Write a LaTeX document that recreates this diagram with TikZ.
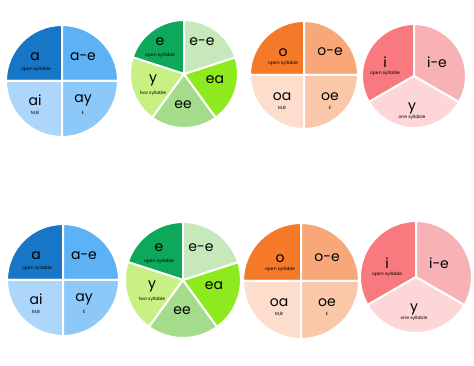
\documentclass[tikz,border=0pt]{standalone}
\usepackage{fontspec}
\setmainfont{Poppins}
\definecolor{adark}{RGB}{24,118,198}
\definecolor{amid}{RGB}{92,178,244}
\definecolor{apale}{RGB}{172,214,250}
\definecolor{alight}{RGB}{140,200,248}
\definecolor{edark}{RGB}{14,168,90}
\definecolor{epale}{RGB}{198,232,186}
\definecolor{elime}{RGB}{142,234,30}
\definecolor{emid}{RGB}{165,220,140}
\definecolor{eyel}{RGB}{200,240,130}
\definecolor{odark}{RGB}{244,122,42}
\definecolor{omid}{RGB}{248,168,120}
\definecolor{opale}{RGB}{253,222,205}
\definecolor{olight}{RGB}{250,200,168}
\definecolor{idark}{RGB}{248,122,126}
\definecolor{imid}{RGB}{248,178,182}
\definecolor{ipale}{RGB}{253,214,215}
\begin{document}
\begin{tikzpicture}[
    x=1pt, y=1pt,
    slice/.style={draw=white, line width=2pt},
    big/.style={font=\fontsize{14}{14}\selectfont, inner sep=0pt},
    small/.style={font=\fontsize{4.5}{5}\selectfont, inner sep=0pt}
]
\useasboundingbox[fill=white] (0,0) rectangle (474,366);

% a pies
\foreach \n/\cx/\cy/\r in {1/62/285/56, 2/63/86/56} {
\begin{scope}[shift={(\cx,\cy)}]
\coordinate (A\n) at (0,0);
\filldraw[slice, fill=adark] (A\n) -- (90:\r) arc[start angle=90, end angle=180, radius=\r] -- cycle;
\filldraw[slice, fill=amid] (A\n) -- (0:\r) arc[start angle=0, end angle=90, radius=\r] -- cycle;
\filldraw[slice, fill=apale] (A\n) -- (180:\r) arc[start angle=180, end angle=270, radius=\r] -- cycle;
\filldraw[slice, fill=alight] (A\n) -- (270:\r) arc[start angle=270, end angle=360, radius=\r] -- cycle;
\node[big] (a\n) at (-27,24) {a};
\node[small] (a\n-s) at (-26,12) {open syllable};
\node[big] (ae\n) at (21,24) {a-e};
\node[big] (ai\n) at (-27,-19) {ai};
\node[small] (ai\n-s) at (-27,-32) {M,B};
\node[big] (ay\n) at (21,-19) {ay};
\node[small] (ay\n-s) at (21,-32) {E};
\end{scope}
}

% e pies
\foreach \n/\cx/\cy/\r in {1/184/292/54, 2/183/86/58} {
\begin{scope}[shift={(\cx,\cy)}]
\coordinate (E\n) at (0,0);
\filldraw[slice, fill=edark] (E\n) -- (90:\r) arc[start angle=90, end angle=162, radius=\r] -- cycle;
\filldraw[slice, fill=eyel] (E\n) -- (162:\r) arc[start angle=162, end angle=234, radius=\r] -- cycle;
\filldraw[slice, fill=emid] (E\n) -- (234:\r) arc[start angle=234, end angle=306, radius=\r] -- cycle;
\filldraw[slice, fill=elime] (E\n) -- (306:\r) arc[start angle=306, end angle=378, radius=\r] -- cycle;
\filldraw[slice, fill=epale] (E\n) -- (18:\r) arc[start angle=18, end angle=90, radius=\r] -- cycle;
\node[big] (e\n) at (-24,32) {e};
\node[small] (e\n-s) at (-24,19) {open syllable};
\node[big] (ee\n) at (18,32) {e-e};
\node[big] (ea\n) at (31,-6) {ea};
\node[big] (eee\n) at (-1,-31) {ee};
\node[big] (y\n) at (-31,-6) {y};
\node[small] (y\n-s) at (-31,-19) {two syllable};
\end{scope}
}

% o pies
\foreach \n/\cx/\cy/\r in {1/304/291/54, 2/301/85/58} {
\begin{scope}[shift={(\cx,\cy)}]
\coordinate (O\n) at (0,0);
\filldraw[slice, fill=odark] (O\n) -- (90:\r) arc[start angle=90, end angle=180, radius=\r] -- cycle;
\filldraw[slice, fill=omid] (O\n) -- (0:\r) arc[start angle=0, end angle=90, radius=\r] -- cycle;
\filldraw[slice, fill=opale] (O\n) -- (180:\r) arc[start angle=180, end angle=270, radius=\r] -- cycle;
\filldraw[slice, fill=olight] (O\n) -- (270:\r) arc[start angle=270, end angle=360, radius=\r] -- cycle;
\node[big] (o\n) at (-21,22) {o};
\node[small] (o\n-s) at (-21,12) {open syllable};
\node[big] (oe\n) at (26,23) {o-e};
\node[big] (oa\n) at (-22,-22) {oa};
\node[small] (oa\n-s) at (-22,-33) {M,B};
\node[big] (ooe\n) at (26,-22) {oe};
\node[small] (ooe\n-s) at (26,-33) {E};
\end{scope}
}

% i pies
\foreach \n/\cx/\cy/\r in {1/414/290/52, 2/416/89/56} {
\begin{scope}[shift={(\cx,\cy)}]
\coordinate (I\n) at (0,0);
\filldraw[slice, fill=idark] (I\n) -- (90:\r) arc[start angle=90, end angle=210, radius=\r] -- cycle;
\filldraw[slice, fill=ipale] (I\n) -- (210:\r) arc[start angle=210, end angle=330, radius=\r] -- cycle;
\filldraw[slice, fill=imid] (I\n) -- (330:\r) arc[start angle=330, end angle=450, radius=\r] -- cycle;
\node[big] (i\n) at (-29,14) {i};
\node[small] (i\n-s) at (-29,3) {open syllable};
\node[big] (ie\n) at (23,14) {i-e};
\node[big] (iy\n) at (-2,-32) {y};
\node[small] (iy\n-s) at (-2,-41) {one syllable};
\end{scope}
}
\end{tikzpicture}
\end{document}
